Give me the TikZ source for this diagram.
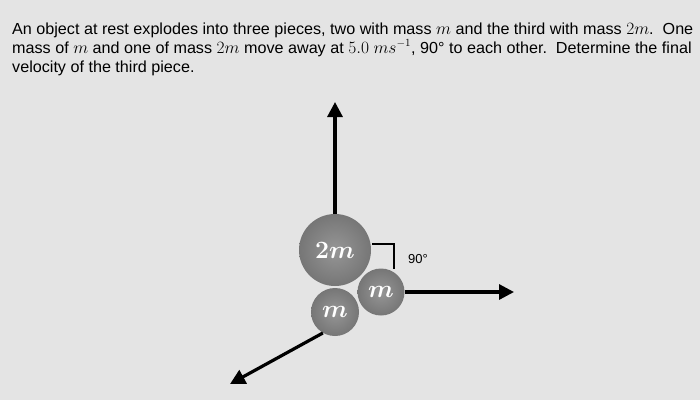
\documentclass[tikz,border=0pt]{standalone}
\usepackage{fontspec}
\setmainfont{Liberation Sans}
\usetikzlibrary{arrows.meta}
\definecolor{bg}{RGB}{228,228,228}
\definecolor{ballin}{RGB}{150,150,150}
\definecolor{ballout}{RGB}{118,118,118}
\tikzset{
  ball/.style={circle, inner sep=0pt, shading=radial, inner color=ballin, outer color=ballout, text=white, font=\mathversion{bold}\fontsize{24}{24}\selectfont},
  vec/.style={line width=3.2pt, -{Triangle[length=15pt,width=15pt]}},
  txt/.style={anchor=base west, inner sep=0pt, font=\fontsize{16}{20}\selectfont}
}
\begin{document}
\begin{tikzpicture}[x=1pt,y=-1pt]
\fill[bg] (0,0) rectangle (700,400);
\useasboundingbox (0,0) rectangle (700,400);
\node[txt] (l1) at (12,34) {\scalebox{1.01}[1]{An object at rest explodes into three pieces, two with mass $m$ and the third with mass $2m$.\ \ One}};
\node[txt] (l2) at (12,53) {\scalebox{1.01}[1]{mass of $m$ and one of mass $2m$ move away at $5.0\ ms^{-1}$, 90° to each other.\ \ Determine the final}};
\node[txt] (l3) at (12,72) {\scalebox{1.01}[1]{velocity of the third piece.}};
\node[ball, minimum size=72pt] (big) at (335,250) {$2m$};
\node[ball, minimum size=47pt] (mr) at (381,292) {$m$};
\node[ball, minimum size=48pt] (mb) at (335,312) {$m$};
\coordinate (tu) at (335,102);
\coordinate (tr) at (514,292);
\coordinate (tl) at (230,384);
\draw[vec] (big.north) -- (tu);
\draw[vec] (mr.east) -- (tr);
\draw[vec] (mb.240) -- (tl);
\coordinate (c1) at (372,244);
\coordinate (c2) at (394,244);
\coordinate (c3) at (394,269);
\draw[line width=2.5pt] (c1) -- (c2) -- (c3);
\node[font=\fontsize{13}{13}\selectfont] (ang) at (418,259) {90°};
\end{tikzpicture}
\end{document}
